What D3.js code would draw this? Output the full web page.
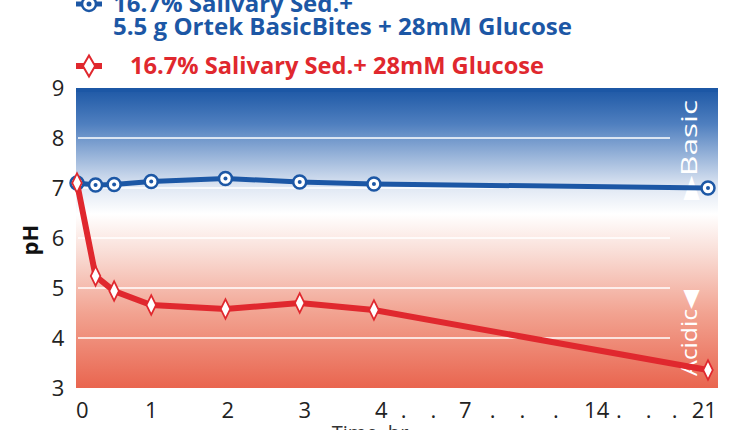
<!DOCTYPE html><html><head><meta charset="utf-8">
<script src="https://cdn.jsdelivr.net/npm/d3@7"></script>
<style>body{margin:0;background:#fff}text{font-family:"Open Sans",sans-serif}</style></head><body>
<svg id="c" width="729" height="430"></svg>
<script>
const xIdx=[0,0.25,0.5,1,2,3,4,8.5];
const blueVals=[7.1,7.06,7.07,7.13,7.19,7.12,7.08,7.0];
const redVals=[7.1,5.24,4.94,4.66,4.58,4.7,4.56,3.36];
const tickLabels=["0","1","2","3","4",".",".","7",".",".",".","14",".",".",".","21"];
const tickPos=[0.07,1.0,2.03,3.07,4.1,4.4,4.8,5.23,5.6,6.0,6.45,7.0,7.3,7.7,8.05,8.45];
const yTicks=[3,4,5,6,7,8,9];
const svg=d3.select("#c");
const x=d3.scaleLinear().domain([0,8.5]).range([77,708]);
const y=d3.scaleLinear().domain([3,9]).range([388,88]);
const g=svg.append("defs").append("linearGradient").attr("id","bg").attr("x1",0).attr("x2",0).attr("y1",0).attr("y2",1);
[[0,"#1c57a5"],[0.12,"#4f7fbf"],[0.33,"#dfe7f3"],[0.42,"#ffffff"],[0.55,"#f9ddd6"],[0.75,"#f2a391"],[1,"#e9654f"]].forEach(s=>g.append("stop").attr("offset",s[0]).attr("stop-color",s[1]));
svg.append("rect").attr("x",76).attr("y",y(9)).attr("width",642).attr("height",y(3)-y(9)).attr("fill","url(#bg)");
svg.append("line").attr("x1",76).attr("x2",718).attr("y1",y(9)+2).attr("y2",y(9)+2).attr("stroke","#1c57a5").attr("stroke-width",4);
svg.selectAll(".gl").data([4,5,6,7,8]).join("line").attr("x1",78).attr("x2",670).attr("y1",d=>y(d)).attr("y2",d=>y(d)).attr("stroke","#fff").attr("stroke-width",1.5);
svg.selectAll(".yl").data(yTicks).join("text").attr("x",58).attr("y",d=>y(d)+8).attr("text-anchor","middle").attr("font-size",22).attr("fill","#222").text(d=>d);
svg.selectAll(".xl").data(tickLabels).join("text").attr("x",(d,i)=>x(tickPos[i])).attr("y",418).attr("text-anchor","middle").attr("font-size",22).attr("fill","#222").text(d=>d);
svg.append("text").attr("transform","translate(38,240) rotate(-90)").attr("text-anchor","middle").attr("font-size",22).attr("font-weight",700).attr("fill","#111").text("pH");
svg.append("text").attr("x",370).attr("y",440).attr("text-anchor","middle").attr("font-size",20).attr("fill","#333").text("Time, hr");
svg.append("text").attr("transform","translate(697,200) rotate(-90)").attr("font-size",21).attr("fill","#fff").attr("textLength",100).attr("lengthAdjust","spacingAndGlyphs").text("\u25B6Basic");
svg.append("text").attr("transform","translate(697,376) rotate(-90)").attr("font-size",21).attr("fill","#fff").attr("textLength",86).attr("lengthAdjust","spacingAndGlyphs").text("Acidic\u25C0");
const line=d3.line().x((d,i)=>x(xIdx[i])).y(d=>y(d));
function series(vals,col,circ){
 svg.append("path").attr("d",line(vals)).attr("fill","none").attr("stroke",col).attr("stroke-width",circ?5:6);
 vals.forEach((v,i)=>{
  if(circ){svg.append("circle").attr("cx",x(xIdx[i])).attr("cy",y(v)).attr("r",6.5).attr("fill","#fff").attr("stroke",col).attr("stroke-width",2.5);
   svg.append("circle").attr("cx",x(xIdx[i])).attr("cy",y(v)).attr("r",2).attr("fill",col);}
  else svg.append("path").attr("d",d3.symbol(d3.symbolDiamond,110)()).attr("transform",`translate(${x(xIdx[i])},${y(v)}) scale(0.85,1)`).attr("fill","#fff").attr("stroke",col).attr("stroke-width",2);
 });
}
series(blueVals,"#1c57a5",true);
series(redVals,"#e0282e",false);
svg.append("line").attr("x1",76).attr("x2",102).attr("y1",4).attr("y2",4).attr("stroke","#1c57a5").attr("stroke-width",5);
svg.append("circle").attr("cx",89).attr("cy",4).attr("r",7).attr("fill","#fff").attr("stroke","#1c57a5").attr("stroke-width",2.5);
svg.append("circle").attr("cx",89).attr("cy",4).attr("r",2.5).attr("fill","#1c57a5");
svg.append("text").attr("x",113).attr("y",12).attr("font-size",23).attr("font-weight",700).attr("fill","#1c57a5").attr("textLength",240).attr("lengthAdjust","spacingAndGlyphs").text("16.7% Salivary Sed.+");
svg.append("text").attr("x",113).attr("y",35).attr("font-size",23).attr("font-weight",700).attr("fill","#1c57a5").attr("textLength",459).attr("lengthAdjust","spacingAndGlyphs").text("5.5 g Ortek BasicBites + 28mM Glucose");
svg.append("line").attr("x1",76).attr("x2",102).attr("y1",66).attr("y2",66).attr("stroke","#e0282e").attr("stroke-width",6);
svg.append("path").attr("d",d3.symbol(d3.symbolDiamond,130)()).attr("transform","translate(89,66)").attr("fill","#fff").attr("stroke","#e0282e").attr("stroke-width",2);
svg.append("text").attr("x",130).attr("y",74).attr("font-size",23).attr("font-weight",700).attr("fill","#e0282e").attr("textLength",414).attr("lengthAdjust","spacingAndGlyphs").text("16.7% Salivary Sed.+ 28mM Glucose");
</script></body></html>
